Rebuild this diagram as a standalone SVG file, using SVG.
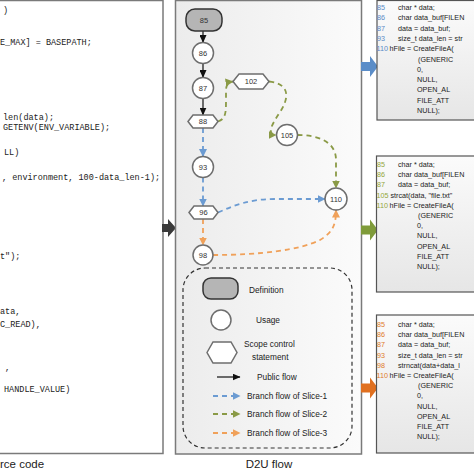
<svg xmlns="http://www.w3.org/2000/svg" width="474" height="474" viewBox="0 0 474 474">
<defs>
<linearGradient id="gMid" x1="0" y1="0" x2="1" y2="0"><stop offset="0" stop-color="#ececec"/><stop offset="1" stop-color="#fbfbfb"/></linearGradient>
<linearGradient id="gCode" x1="0" y1="0" x2="0" y2="1"><stop offset="0" stop-color="#fbfbfb"/><stop offset="1" stop-color="#e6e6e6"/></linearGradient>
<marker id="mK" markerUnits="userSpaceOnUse" markerWidth="8" markerHeight="7" refX="7.5" refY="3.5" orient="auto"><path d="M0,0 L8,3.5 L0,7 z" fill="#111"/></marker>
<marker id="mB" markerUnits="userSpaceOnUse" markerWidth="8" markerHeight="8" refX="7.5" refY="4" orient="auto"><path d="M0,0 L8,4 L0,8 z" fill="#6b9bd2"/></marker>
<marker id="mG" markerUnits="userSpaceOnUse" markerWidth="8" markerHeight="8" refX="7.5" refY="4" orient="auto"><path d="M0,0 L8,4 L0,8 z" fill="#8a9a46"/></marker>
<marker id="mO" markerUnits="userSpaceOnUse" markerWidth="8" markerHeight="8" refX="7.5" refY="4" orient="auto"><path d="M0,0 L8,4 L0,8 z" fill="#f0a15a"/></marker>
</defs>
<style>
.code{font-family:"Liberation Mono",monospace;font-size:8.5px;fill:#222}
.cap{font-family:"Liberation Sans",Arial,sans-serif;font-size:11.5px;fill:#222}
.lbl{font-family:"Liberation Sans",Arial,sans-serif;font-size:7.5px;fill:#333;text-anchor:middle}
.leg{font-family:"Liberation Sans",Arial,sans-serif;font-size:8.3px;fill:#222}
.rc{font-family:"Liberation Sans",Arial,sans-serif;font-size:7.2px;fill:#222}
.nB{fill:#5a8ac6}.nG{fill:#93a63a}.nO{fill:#e07a2a}
.use{fill:#fff;stroke:#6e6e6e;stroke-width:1.5}
.def{fill:#b5b5b5;stroke:#333;stroke-width:1.5}
.k{stroke:#111;stroke-width:1.2;fill:none;marker-end:url(#mK)}
.b{stroke:#6b9bd2;stroke-width:1.8;stroke-dasharray:5 4;fill:none;marker-end:url(#mB)}
.g{stroke:#8a9a46;stroke-width:1.8;stroke-dasharray:5 4;fill:none;marker-end:url(#mG)}
.o{stroke:#f0a15a;stroke-width:1.8;stroke-dasharray:5 4;fill:none;marker-end:url(#mO)}
.panel{stroke:#7a7a7a;stroke-width:1.5}
</style>
<rect width="474" height="474" fill="#fff"/>
<!-- left source panel -->
<g id="source-panel">
<rect x="-2" y="0.5" width="165" height="453" fill="#fff" class="panel"/>
<text class="code" x="3" y="13">)</text>
<text class="code" x="0" y="45">E_MAX] = BASEPATH;</text>
<text class="code" x="3" y="120">len(data);</text>
<text class="code" x="3" y="130">GETENV(ENV_VARIABLE);</text>
<text class="code" x="4" y="155">LL)</text>
<text class="code" x="2" y="180">, environment, 100-data_len-1);</text>
<text class="code" x="0" y="259">t");</text>
<text class="code" x="0" y="314">ata,</text>
<text class="code" x="0" y="327">C_READ),</text>
<text class="code" x="5" y="370">,</text>
<text class="code" x="4" y="392">HANDLE_VALUE)</text>
<text class="cap" x="0" y="468">rce code</text>
</g>
<path d="M162,224 H168 V219 L176,228 L168,237 V232 H162 z" fill="#3a3a3a"/>
<!-- middle panel -->
<g id="d2u-panel">
<rect x="175.5" y="0.5" width="186" height="453.5" fill="url(#gMid)" class="panel"/>
<text class="cap" x="269" y="468" text-anchor="middle">D2U flow</text>
</g>
<g id="connectors">
<path class="k" d="M203,31 V42.5"/>
<path class="k" d="M203,63.5 V77.5"/>
<path class="k" d="M203,98.5 V115"/>
<path class="b" d="M203,128 V156.5"/>
<path class="b" d="M203,177.5 V206"/>
<path class="b" d="M218,212.5 C235,205 250,199 275,199 L325,199"/>
<path class="g" d="M218,121.5 C226,119 226,112 226,100 L226,90 C226,85 229,82 233,81.5"/>
<path class="g" d="M269,81.5 C292,84 288,100 280,112 C272,124 266,135 276,135"/>
<path class="g" d="M297.5,135 C315,135 336,140 336,160 L336,188"/>
<path class="o" d="M203,219 V245"/>
<path class="o" d="M213,255 C260,255 300,250 320,240 C333,232 336,225 336,210"/>
</g>
<g id="n85"><rect x="186" y="9" width="36" height="22" rx="9" class="def"/><text class="lbl" x="204" y="23">85</text></g>
<g id="n86"><circle cx="203" cy="53" r="10.5" class="use"/><text class="lbl" x="203" y="55.8">86</text></g>
<g id="n87"><circle cx="203" cy="88" r="10.5" class="use"/><text class="lbl" x="203" y="90.8">87</text></g>
<g id="n88"><polygon points="188,121.5 193,115 213,115 218,121.5 213,128 193,128" class="use"/><text class="lbl" x="203" y="124.3">88</text></g>
<g id="n102"><polygon points="233,81.5 239,74 263,74 269,81.5 263,89 239,89" class="use"/><text class="lbl" x="251" y="84.3">102</text></g>
<g id="n105"><circle cx="287" cy="135" r="10.5" class="use"/><text class="lbl" x="287" y="137.8">105</text></g>
<g id="n93"><circle cx="203" cy="167" r="10.5" class="use"/><text class="lbl" x="203" y="169.8">93</text></g>
<g id="n96"><polygon points="189,212.5 194,206 213,206 218,212.5 213,219 194,219" class="use"/><text class="lbl" x="203.5" y="215.3">96</text></g>
<g id="n110"><circle cx="336" cy="199" r="11" class="use"/><text class="lbl" x="336" y="201.8">110</text></g>
<g id="n98"><circle cx="203" cy="255" r="10" class="use"/><text class="lbl" x="203" y="257.8">98</text></g>
<!-- legend -->
<g id="legend">
<rect x="183" y="268" width="169" height="180" rx="22" fill="none" stroke="#333" stroke-width="1.2" stroke-dasharray="4 3"/>
<rect x="203" y="278" width="35" height="21" rx="8" class="def"/>
<text class="leg" x="249" y="293">Definition</text>
<circle cx="221" cy="320" r="10" class="use"/>
<text class="leg" x="256" y="323">Usage</text>
<polygon points="207,352.5 213,342 231,342 237,352.5 231,363 213,363" class="use"/>
<text class="leg" x="244" y="347">Scope control</text>
<text class="leg" x="252" y="360">statement</text>
<path class="k" d="M217,377 H240"/>
<text class="leg" x="257" y="380">Public flow</text>
<path class="b" d="M213,396 H240"/>
<text class="leg" x="247" y="399">Branch flow of Slice-1</text>
<path class="g" d="M213,414 H240"/>
<text class="leg" x="247" y="417">Branch flow of Slice-2</text>
<path class="o" d="M213,433 H240"/>
<text class="leg" x="247" y="436">Branch flow of Slice-3</text>
</g>
<!-- block arrows -->
<path d="M361,62 H370 V56 L378,66.5 L370,77 V71 H361 z" fill="#5b8dc8"/>
<path d="M361,225.5 H370 V219.5 L378,230 L370,240.5 V234.5 H361 z" fill="#7f9b3a"/>
<path d="M361,383.5 H370 V377.5 L378,388 L370,398.5 V392.5 H361 z" fill="#e07020"/>
<!-- slice 1 -->
<g id="slice1">
<rect x="377" y="0.5" width="110" height="119.5" fill="url(#gCode)" stroke="#555" stroke-width="1.2"/>
<text class="rc"><tspan class="nB" x="377" y="10">85</tspan><tspan x="398">char * data;</tspan></text>
<text class="rc"><tspan class="nB" x="377" y="20.3">86</tspan><tspan x="398">char data_buf[FILEN</tspan></text>
<text class="rc"><tspan class="nB" x="377" y="30.6">87</tspan><tspan x="398">data = data_buf;</tspan></text>
<text class="rc"><tspan class="nB" x="377" y="40.9">93</tspan><tspan x="398">size_t data_len = str</tspan></text>
<text class="rc"><tspan class="nB" x="376.5" y="51.2">110</tspan><tspan x="389.5">hFile = CreateFileA(</tspan></text>
<text class="rc" x="418" y="61.5">(GENERIC</text>
<text class="rc" x="417" y="71.8">0,</text>
<text class="rc" x="417" y="82.1">NULL,</text>
<text class="rc" x="417" y="92.4">OPEN_AL</text>
<text class="rc" x="417" y="102.7">FILE_ATT</text>
<text class="rc" x="417" y="113">NULL);</text>
</g>
<!-- slice 2 -->
<g id="slice2">
<rect x="376.5" y="156" width="110" height="136" fill="url(#gCode)" stroke="#555" stroke-width="1.2"/>
<text class="rc"><tspan class="nG" x="377" y="167">85</tspan><tspan x="398">char * data;</tspan></text>
<text class="rc"><tspan class="nG" x="377" y="177.2">86</tspan><tspan x="398">char data_buf[FILEN</tspan></text>
<text class="rc"><tspan class="nG" x="377" y="187.4">87</tspan><tspan x="398">data = data_buf;</tspan></text>
<text class="rc"><tspan class="nG" x="376.5" y="197.6">105</tspan><tspan x="390.5">strcat(data, "file.txt"</tspan></text>
<text class="rc"><tspan class="nG" x="376.5" y="207.8">110</tspan><tspan x="389.5">hFile = CreateFileA(</tspan></text>
<text class="rc" x="418" y="218">(GENERIC</text>
<text class="rc" x="417" y="228.2">0,</text>
<text class="rc" x="417" y="238.4">NULL,</text>
<text class="rc" x="417" y="248.6">OPEN_AL</text>
<text class="rc" x="417" y="258.8">FILE_ATT</text>
<text class="rc" x="417" y="269">NULL);</text>
</g>
<!-- slice 3 -->
<g id="slice3">
<rect x="376.5" y="315" width="110" height="138" fill="url(#gCode)" stroke="#555" stroke-width="1.2"/>
<text class="rc"><tspan class="nO" x="377" y="327">85</tspan><tspan x="398">char * data;</tspan></text>
<text class="rc"><tspan class="nO" x="377" y="337.2">86</tspan><tspan x="398">char data_buf[FILEN</tspan></text>
<text class="rc"><tspan class="nO" x="377" y="347.4">87</tspan><tspan x="398">data = data_buf;</tspan></text>
<text class="rc"><tspan class="nO" x="377" y="357.6">93</tspan><tspan x="398">size_t data_len = str</tspan></text>
<text class="rc"><tspan class="nO" x="377" y="367.8">98</tspan><tspan x="398">strncat(data+data_l</tspan></text>
<text class="rc"><tspan class="nO" x="376.5" y="378">110</tspan><tspan x="389.5">hFile = CreateFileA(</tspan></text>
<text class="rc" x="418" y="388.2">(GENERIC</text>
<text class="rc" x="417" y="398.4">0,</text>
<text class="rc" x="417" y="408.6">NULL,</text>
<text class="rc" x="417" y="418.8">OPEN_AL</text>
<text class="rc" x="417" y="429">FILE_ATT</text>
<text class="rc" x="417" y="439.2">NULL);</text>
</g>
</svg>
